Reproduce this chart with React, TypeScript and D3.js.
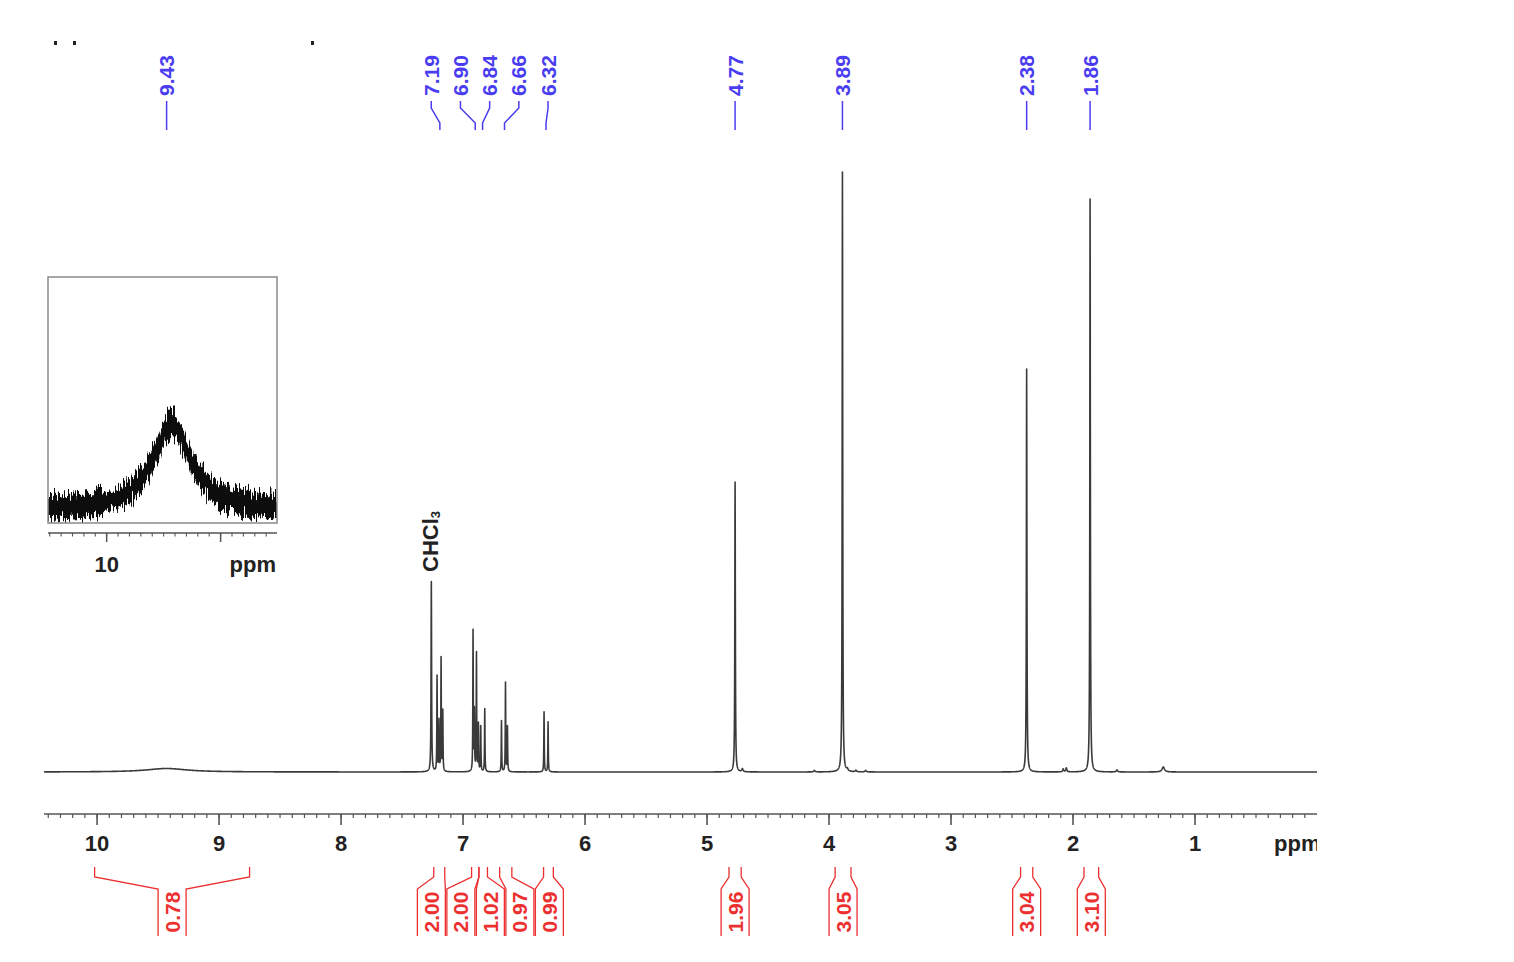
import * as d3 from "d3";

const W = 1514;
const H = 962;

// peak list: shift (ppm), height above baseline, half width (ppm)
const peakPpm = [
  9.43, 7.26, 7.213, 7.197, 7.18, 7.166, 6.918, 6.907, 6.89, 6.874, 6.855, 6.822,
  6.685, 6.652, 6.636, 6.336, 6.303, 4.77, 4.71, 4.12, 3.89, 3.85, 3.78, 3.7,
  2.38, 2.08, 2.055, 1.86, 1.64, 1.26,
];
const peakHeight = [
  3.5, 190, 95, 50, 113, 60, 140, 59, 118, 47, 45, 63,
  51, 89, 45, 60, 50, 290, 3, 1.5, 600, 2, 1.5, 1.5,
  403, 3, 4, 573, 2, 5,
];
const peakWidth = [
  0.2, 0.0025, 0.002, 0.002, 0.002, 0.002, 0.002, 0.002, 0.002, 0.002, 0.002, 0.002,
  0.002, 0.002, 0.002, 0.002, 0.002, 0.0025, 0.006, 0.006, 0.0025, 0.006, 0.006, 0.006,
  0.0025, 0.005, 0.005, 0.0025, 0.006, 0.012,
];

// picked shifts (blue, top)
const shiftLabels = [9.43, 7.19, 6.9, 6.84, 6.66, 6.32, 4.77, 3.89, 2.38, 1.86];

// integrals (red, bottom)
const integralFrom = [10.02, 7.24, 6.93, 6.87, 6.7, 6.34, 4.82, 3.95, 2.43, 1.91];
const integralTo = [8.75, 7.15, 6.87, 6.8, 6.6, 6.26, 4.72, 3.82, 2.33, 1.79];
const integralValues = ["0.78", "2.00", "2.00", "1.02", "0.97", "0.99", "1.96", "3.05", "3.04", "3.10"];

const axisTicks = [10, 9, 8, 7, 6, 5, 4, 3, 2, 1];
const insetTicks = [10];

const FONT = "'Liberation Sans', Arial, Helvetica, sans-serif";
const BLUE = "#4a3cf0";
const RED = "#ec3030";

function intensity(p: number) {
  let s = 0;
  for (let i = 0; i < peakPpm.length; i++) {
    const g = peakWidth[i];
    const d = p - peakPpm[i];
    s += (peakHeight[i] * g * g) / (g * g + d * d);
  }
  return s;
}

// push overlapping labels apart, keeping each crowded group centred on its targets
function spread(xs: number[], gap: number) {
  let groups = xs.map((x) => ({ items: [x], center: x }));
  let merged = true;
  while (merged) {
    merged = false;
    for (let i = 0; i < groups.length - 1; i++) {
      const a = groups[i];
      const b = groups[i + 1];
      const aRight = a.center + ((a.items.length - 1) * gap) / 2;
      const bLeft = b.center - ((b.items.length - 1) * gap) / 2;
      if (bLeft - aRight < gap) {
        const items = a.items.concat(b.items);
        groups.splice(i, 2, { items, center: d3.mean(items) as number });
        merged = true;
        break;
      }
    }
  }
  return groups.flatMap((g) =>
    g.items.map((_, k) => g.center + (k - (g.items.length - 1) / 2) * gap),
  );
}

export default function App() {
  document.body.style.margin = "0";

  const plot = { left: 44, right: 1317, base: 772, axisY: 814 };
  const x = d3.scaleLinear().domain([10.435, 0]).range([plot.left, plot.right]);
  const y = d3.scaleLinear().domain([0, 600]).range([plot.base, plot.base - 600]);

  // sample grid, with every peak centre included so the tops are not missed
  const grid = d3
    .range(0, 10.435, 0.001)
    .concat(peakPpm)
    .sort((a, b) => b - a);
  const spectrum = d3
    .line<number>()
    .x((p) => x(p))
    .y((p) => y(intensity(p)))(grid) as string;

  const minor = d3.range(1, 105).map((i) => i / 10);

  // shift labels
  const shiftPx = shiftLabels.map((s) => x(s));
  const labelPx = spread(shiftPx, 29.2);

  // integral boxes
  const intCenter = integralFrom.map((f, i) => x((f + integralTo[i]) / 2));
  const boxPx = spread(intCenter, 29.5);
  const half = 14;

  // inset
  const inset = { left: 48, right: 277, top: 277, bottom: 523, axisY: 533 };
  const ix = d3.scaleLinear().domain([10.515, 8.505]).range([inset.left, inset.right]);
  const iy = d3.scaleLinear().domain([0, 3.5]).range([511, 424]);
  const insetGrid = d3.range(8.5, 10.52, 0.002);
  const band = d3
    .area<number>()
    .x((p) => ix(p))
    .y0((p) => iy(intensity(p)) + 12)
    .y1((p) => iy(intensity(p)) - 12)(insetGrid) as string;
  const insetMinor = d3.range(86, 106).map((i) => i / 10);

  const chclX = x(7.26) - 1;

  return (
    <svg
      width={W}
      height={H}
      style={{ position: "absolute", left: 0, top: 0, background: "#fff" }}
      fontFamily={FONT}
    >
      <defs>
        <clipPath id="plotClip">
          <rect x={plot.left} y={0} width={plot.right - plot.left} height={H} />
        </clipPath>
        <clipPath id="insetClip">
          <rect x={inset.left} y={inset.top} width={inset.right - inset.left} height={inset.bottom - inset.top} />
        </clipPath>
        <filter id="noise" filterUnits="userSpaceOnUse" x={inset.left} y={inset.top} width={inset.right - inset.left} height={inset.bottom - inset.top}>
          <feTurbulence type="fractalNoise" baseFrequency="0.8 0.04" numOctaves={2} seed={3} result="t" />
          <feColorMatrix
            in="t"
            type="matrix"
            values="0 0 0 0 0.5  0 1 0 0 0  0 0 1 0 0  0 0 0 0 1"
            result="m"
          />
          <feDisplacementMap in="SourceGraphic" in2="m" scale={30} xChannelSelector="R" yChannelSelector="G" />
        </filter>
      </defs>

      {/* cut-off title fragments */}
      <g fill="#222">
        <rect x={54} y={41} width={3} height={4} />
        <rect x={73} y={41} width={3} height={4} />
        <rect x={311} y={41} width={3} height={4} />
      </g>

      {/* spectrum */}
      <path
        d={spectrum}
        fill="none"
        stroke="#3a3a3a"
        strokeWidth={1.6}
        strokeLinejoin="round"
        clipPath="url(#plotClip)"
      />

      {/* solvent */}
      <text
        transform={`translate(${chclX},572) rotate(-90)`}
        fontSize={22}
        fontWeight="bold"
        fill="#222"
        dominantBaseline="central"
      >
        CHCl
        <tspan fontSize={13} dy={5}>3</tspan>
      </text>

      {/* ppm axis */}
      <g stroke="#555">
        <line x1={plot.left} x2={plot.right} y1={plot.axisY} y2={plot.axisY} strokeWidth={1.6} />
        {minor.map((p) => (
          <line key={p} x1={x(p)} x2={x(p)} y1={plot.axisY} y2={plot.axisY + 4} strokeWidth={1.2} />
        ))}
        {axisTicks.map((t) => (
          <line key={t} x1={x(t)} x2={x(t)} y1={plot.axisY} y2={plot.axisY + 11} strokeWidth={1.6} />
        ))}
      </g>
      <g fontSize={22} fontWeight="bold" fill="#222" textAnchor="middle">
        {axisTicks.map((t) => (
          <text key={t} x={x(t)} y={851}>
            {t}
          </text>
        ))}
      </g>
      <text x={1274} y={851} fontSize={22} fontWeight="bold" fill="#222" clipPath="url(#plotClip)">
        ppm
      </text>

      {/* shift labels */}
      <g fill="none" stroke={BLUE} strokeWidth={1.5}>
        {shiftLabels.map((s, i) => (
          <path
            key={s}
            d={`M${labelPx[i]},101 L${labelPx[i]},108 L${shiftPx[i]},123 L${shiftPx[i]},130`}
          />
        ))}
      </g>
      <g fontSize={21} fontWeight="bold" fill={BLUE}>
        {shiftLabels.map((s, i) => (
          <text
            key={s}
            transform={`translate(${labelPx[i]},96) rotate(-90)`}
            dominantBaseline="central"
          >
            {s.toFixed(2)}
          </text>
        ))}
      </g>

      {/* integrals */}
      <g fill="none" stroke={RED} strokeWidth={1.3}>
        {integralValues.map((v, i) => {
          const a = x(integralFrom[i]);
          const b = x(integralTo[i]);
          const c = boxPx[i];
          return (
            <path
              key={i}
              d={`M${a},867 L${a},877 L${c - half},889 L${c - half},936 M${b},867 L${b},877 L${c + half},889 L${c + half},936`}
            />
          );
        })}
      </g>
      <g fontSize={21} fontWeight="bold" fill={RED}>
        {integralValues.map((v, i) => (
          <text
            key={i}
            transform={`translate(${boxPx[i]},912) rotate(-90)`}
            textAnchor="middle"
            dominantBaseline="central"
          >
            {v}
          </text>
        ))}
      </g>

      {/* inset of the broad 9.43 signal */}
      <g clipPath="url(#insetClip)">
        <path d={band} fill="#111" filter="url(#noise)" />
      </g>
      <rect
        x={inset.left}
        y={inset.top}
        width={inset.right - inset.left}
        height={inset.bottom - inset.top}
        fill="none"
        stroke="#8a8a8a"
        strokeWidth={1.5}
      />
      <g stroke="#555">
        <line x1={inset.left} x2={inset.right} y1={inset.axisY} y2={inset.axisY} strokeWidth={1.5} />
        {insetMinor.map((p) => (
          <line key={p} x1={ix(p)} x2={ix(p)} y1={inset.axisY} y2={inset.axisY + 3.5} strokeWidth={1.1} />
        ))}
        {[10, 9].map((t) => (
          <line key={t} x1={ix(t)} x2={ix(t)} y1={inset.axisY} y2={inset.axisY + 9} strokeWidth={1.5} />
        ))}
      </g>
      <g fontSize={22} fontWeight="bold" fill="#222">
        {insetTicks.map((t) => (
          <text key={t} x={ix(t)} y={572} textAnchor="middle">
            {t}
          </text>
        ))}
        <text x={inset.right - 1} y={572} textAnchor="end">
          ppm
        </text>
      </g>
    </svg>
  );
}
